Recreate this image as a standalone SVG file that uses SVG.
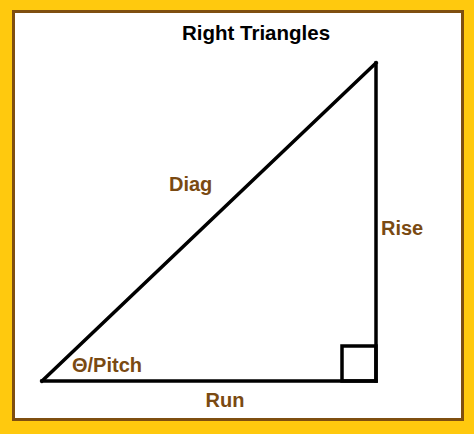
<svg xmlns="http://www.w3.org/2000/svg" width="474" height="434" viewBox="0 0 474 434">
<style>
.lbl{font-family:"Liberation Sans",Arial,sans-serif;font-weight:bold;font-size:20px;fill:#7a4a12}
.title{font-family:"Liberation Sans",Arial,sans-serif;font-weight:bold;font-size:20.5px;fill:#000}
.edge{stroke:#000;stroke-width:3.5;fill:none;stroke-linecap:square}
</style>
<rect x="0" y="0" width="474" height="434" fill="#ffc90e"/>
<rect x="13.5" y="11.5" width="449" height="408" fill="#fff" stroke="#7f4f10" stroke-width="3"/>
<g id="title"><text class="title" x="256" y="40" text-anchor="middle">Right Triangles</text></g>
<g id="connectors">
<line class="edge" x1="42" y1="381" x2="376" y2="63"/>
<line class="edge" x1="376" y1="63" x2="376" y2="381"/>
<line class="edge" x1="42" y1="381" x2="376" y2="381"/>
<rect class="edge" x="342" y="346" width="34" height="35" stroke-width="3"/>
</g>
<g id="diag"><text class="lbl" x="169" y="191">Diag</text></g>
<g id="rise"><text class="lbl" x="381" y="235">Rise</text></g>
<g id="pitch"><text class="lbl" x="72" y="372">Θ/Pitch</text></g>
<g id="run"><text class="lbl" x="225" y="407" text-anchor="middle">Run</text></g>
</svg>
